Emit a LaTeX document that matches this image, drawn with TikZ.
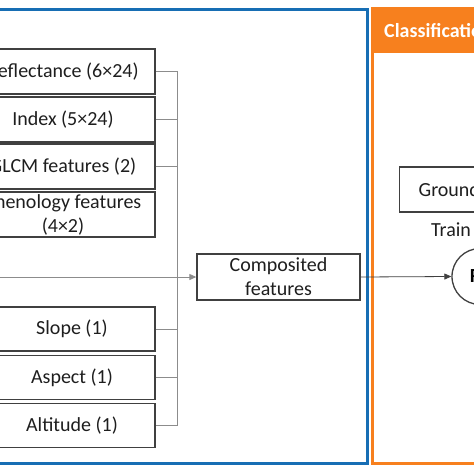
\documentclass[tikz,border=0pt]{standalone}
\usepackage{fontspec}
\setmainfont{Carlito}
\usetikzlibrary{arrows.meta}
\definecolor{frameblue}{RGB}{23,110,180}
\definecolor{frameorange}{RGB}{247,128,30}
\definecolor{boxgray}{RGB}{64,64,64}
\definecolor{linegray}{RGB}{140,140,140}
\definecolor{txt}{RGB}{30,30,30}
\tikzset{
  fbox/.style={draw=boxgray, line width=1.3pt, text=txt, inner sep=0pt, align=center,
    font=\fontsize{20}{24}\selectfont},
  conn/.style={draw=linegray, line width=1pt},
  arr/.style={line width=0.9pt, -{Triangle[length=7pt,width=6pt]}},
  lbl/.style={text=txt, inner sep=0pt, font=\fontsize{20}{24}\selectfont}
}
\begin{document}
\begin{tikzpicture}[x=1pt,y=-1pt]
\useasboundingbox (0,0) rectangle (474,474);
\clip (0,0) rectangle (474,474);
% frames
\draw[frameblue, line width=3pt] (-20,9) rectangle (367,463);
\fill[frameorange] (371,7) rectangle (500,53);
\draw[frameorange, line width=3pt] (372.5,8.5) rectangle (520,463.5);
\node[anchor=west, inner sep=0pt, text=white, font=\fontsize{20}{24}\selectfont\bfseries] (head) at (384,31) {Classification};
% left boxes
\node[fbox, minimum width=184pt, minimum height=45pt] (refl) at (63,71.5) {Reflectance (6×24)};
\node[fbox, minimum width=184pt, minimum height=45pt] (idx) at (63,119.5) {Index (5×24)};
\node[fbox, minimum width=184pt, minimum height=45pt] (glcm) at (63,166.5) {GLCM features (2)};
\node[fbox, minimum width=184pt, minimum height=45pt] (phen) at (63,214.5) {Phenology features\\(4×2)};
\node[fbox, minimum width=166pt, minimum height=44pt] (slope) at (72,329) {Slope (1)};
\node[fbox, minimum width=166pt, minimum height=44pt] (asp) at (72,377.5) {Aspect (1)};
\node[fbox, minimum width=166pt, minimum height=44pt] (alt) at (72,425.5) {Altitude (1)};
% bus
\coordinate (bustop) at (177,71.5);
\coordinate (busbot) at (177,425.5);
\draw[conn] (refl.east) -- (bustop) -- (busbot) -- (alt.east);
\draw[conn] (idx.east) -- (idx.east -| bustop);
\draw[conn] (glcm.east) -- (glcm.east -| bustop);
\draw[conn] (slope.east) -- (slope.east -| bustop);
\draw[conn] (asp.east) -- (asp.east -| bustop);
% composited
\node[fbox, minimum width=163pt, minimum height=46pt] (comp) at (278.5,277) {Composited\\features};
\coordinate (inl) at (-5,277);
\draw[arr, draw=linegray] (inl) -- (comp.west);
% right part
\node[draw=boxgray, line width=1.3pt, circle, minimum size=56pt, inner sep=0pt, text=black,
  font=\fontsize{20}{24}\selectfont\bfseries] (rf) at (480,276.5) {RF};
\draw[arr, draw=boxgray, line width=0.8pt] (comp.east) -- (rf.west);
\node[draw=boxgray, line width=1.3pt, anchor=west, minimum height=45pt, inner xsep=19pt, inner ysep=0pt,
  text=txt, font=\fontsize{20}{24}\selectfont] (gt) at (399,189.5) {Ground truth};
\node[lbl, anchor=west] (train) at (431,230) {Train};
\end{tikzpicture}
\end{document}
